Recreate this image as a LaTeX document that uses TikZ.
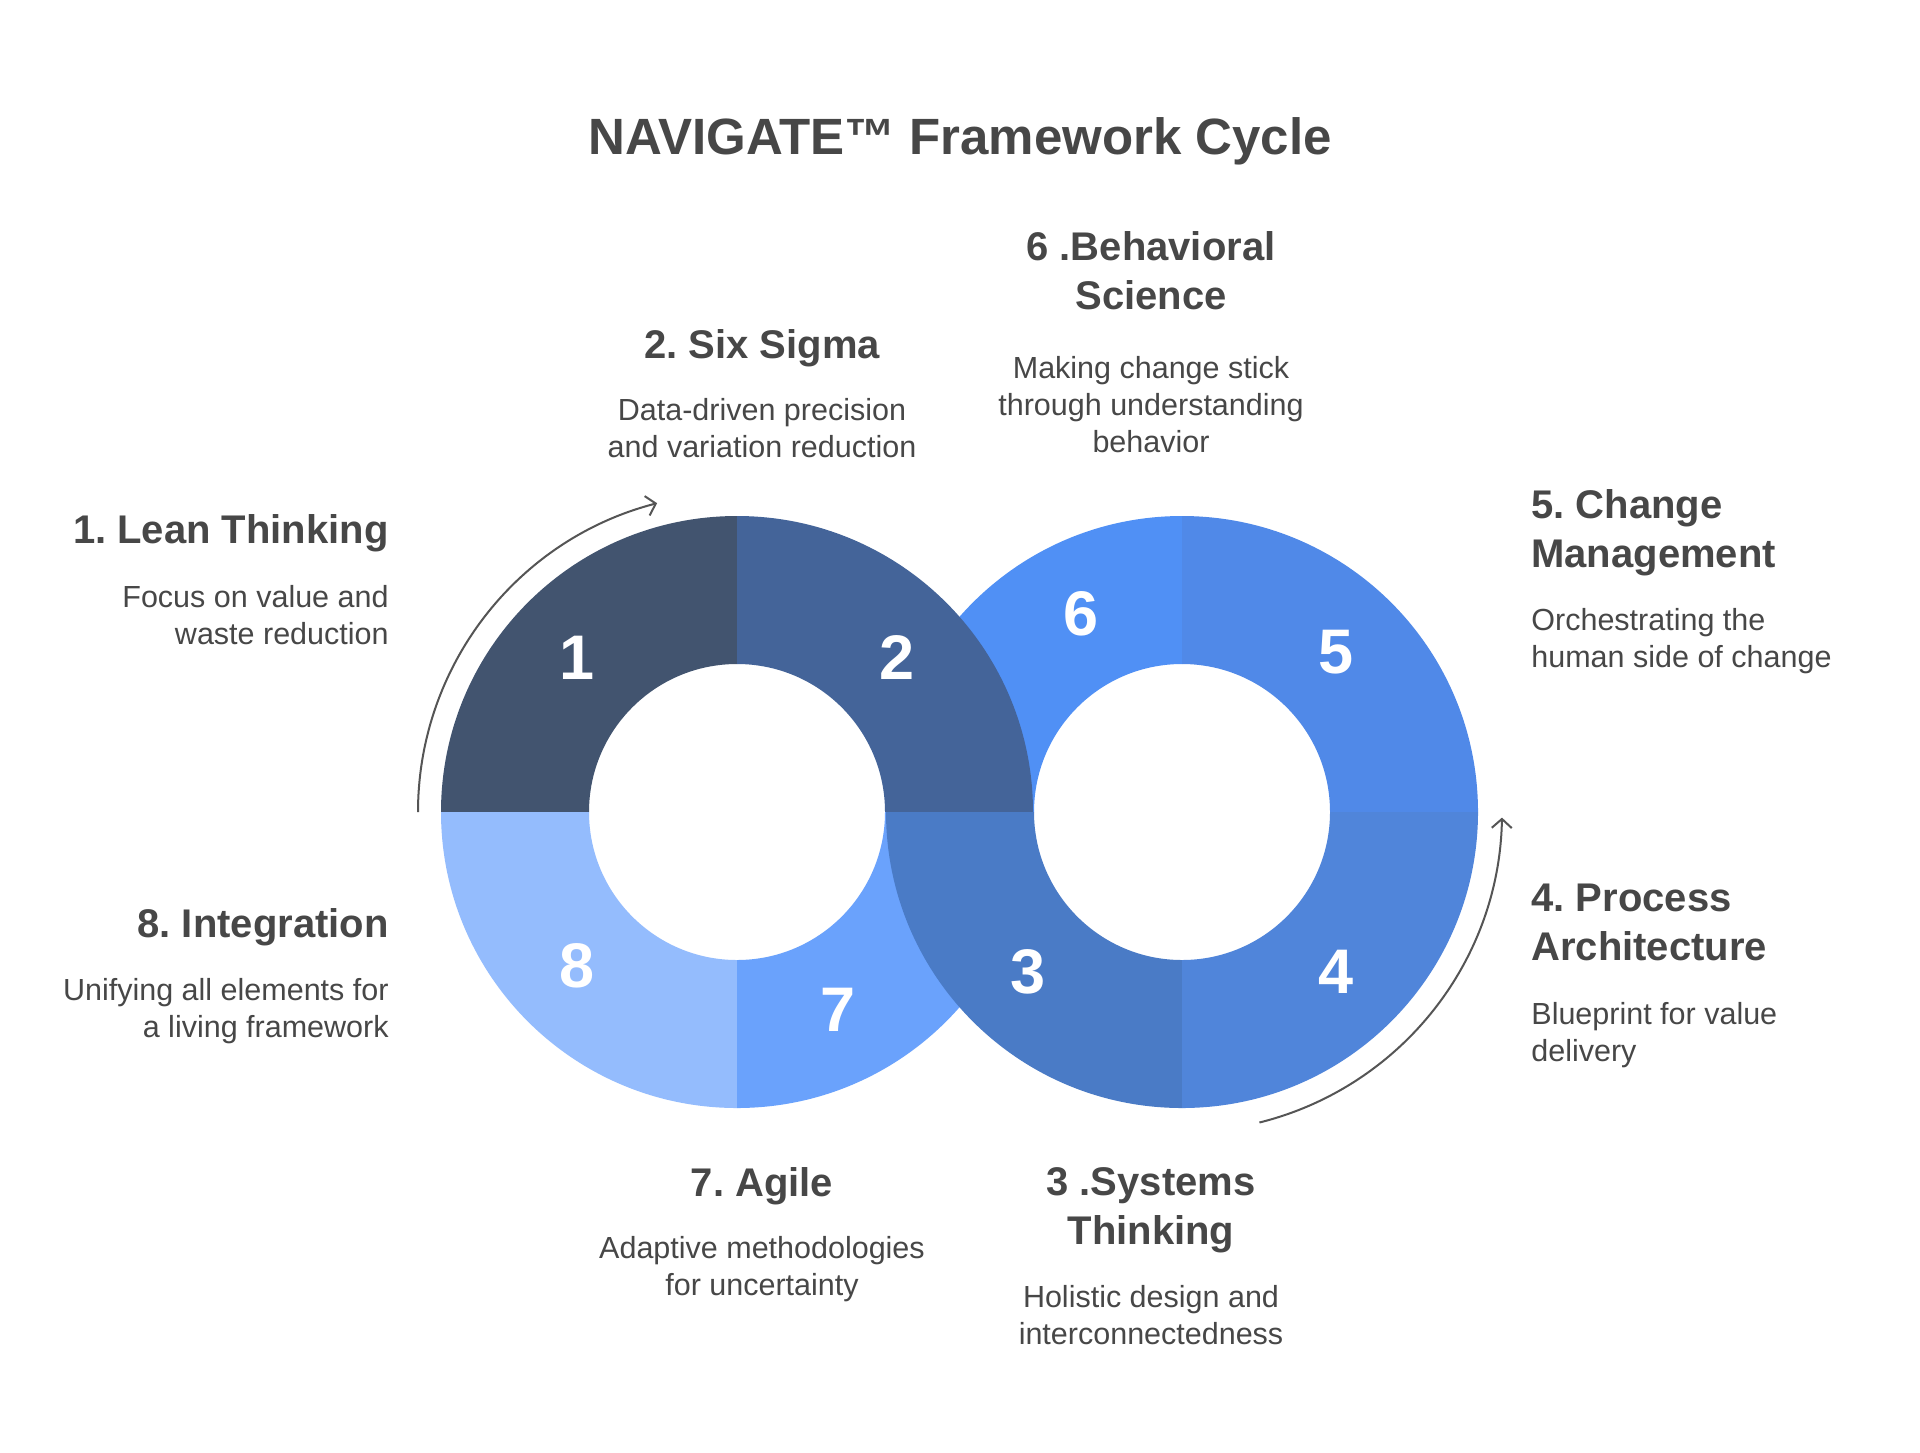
\documentclass[tikz,border=0pt]{standalone}
\usepackage{fontspec}
\setmainfont{Liberation Sans}
\usetikzlibrary{arrows.meta,calc,positioning}
\frenchspacing
\definecolor{navone}{HTML}{42546F}
\definecolor{navtwo}{HTML}{446499}
\definecolor{navthree}{HTML}{4A7BC6}
\definecolor{navfour}{HTML}{5085DA}
\definecolor{navfive}{HTML}{5089E8}
\definecolor{navsix}{HTML}{5090F5}
\definecolor{navseven}{HTML}{6AA2FC}
\definecolor{naveight}{HTML}{94BCFD}
\definecolor{navtext}{HTML}{474747}
\definecolor{navarrow}{HTML}{555555}
% one quarter of a ring: centre, start angle, end angle, colour
\newcommand{\ringseg}[4]{%
  \fill[#4] ($(#1)+(#2:296)$) arc[start angle=#2, end angle=#3, radius=296]
    -- ($(#1)+(#3:148)$) arc[start angle=#3, end angle=#2, radius=148] -- cycle;}

\begin{document}
\begin{tikzpicture}[
  x=.5pt,y=.5pt,
  cyc/.style={draw=navarrow, line width=1pt, -{Straight Barb[length=4.5pt,width=10pt]}},
  num/.style={text=white, inner sep=0pt, font=\bfseries\fontsize{31.5}{32}\selectfont},
  head/.style={text=navtext, inner sep=0pt, font=\bfseries\fontsize{20}{24.5}\selectfont},
  desc/.style={text=navtext, inner sep=0pt, font=\fontsize{15.25}{18.5}\selectfont},
]
\path[fill=white, use as bounding box] (0,0) rectangle (1920,-1452);

\node[anchor=north, text=navtext, inner sep=0pt, font=\bfseries\fontsize{25.5}{30}\selectfont] (title) at (960,-117) {NAVIGATE™ Framework Cycle};

\coordinate (L) at (737,-812);
\coordinate (R) at (1182,-812);

% rings: right top, then left, then right bottom
\ringseg{R}{90}{180}{navsix}
\ringseg{R}{0}{90}{navfive}
\ringseg{L}{90}{180}{navone}
\ringseg{L}{0}{90}{navtwo}
\ringseg{L}{180}{270}{naveight}
\ringseg{L}{270}{360}{navseven}
\ringseg{R}{180}{270}{navthree}
\ringseg{R}{270}{360}{navfour}

\foreach \n/\a in {1/136,2/44,8/224,7/297}{\node[num] (n\n) at ($(L)+(\a:222)$) {\n};}
\foreach \n/\a in {6/117,5/46,3/226,4/314}{\node[num] (n\n) at ($(R)+(\a:222)$) {\n};}

\draw[cyc] ($(L)+(180:319)$) arc[start angle=180, end angle=104.5, radius=319];
\draw[cyc] ($(R)+(-76:320)$) arc[start angle=-76, end angle=-1, radius=320];

% labels
\node[head, anchor=north east, align=right] (lean) at (389,-514) {1. Lean Thinking};
\node[desc, anchor=north east, align=right] (leand) at (389,-585) {Focus on value and\\waste reduction};
\node[head, anchor=north] (six) at (762,-329) {2. Six Sigma};
\node[desc, anchor=north, align=center] (sixd) at (762,-398) {Data-driven precision\\and variation reduction};
\node[head, anchor=north, align=center] (beh) at (1151,-231) {6 .Behavioral\\Science};
\node[desc, anchor=north, align=center] (behd) at (1151,-356) {Making change stick\\through understanding\\behavior};
\node[head, anchor=north west, align=left] (chg) at (1531,-489) {5. Change\\Management};
\node[desc, anchor=north west, align=left] (chgd) at (1531,-608) {Orchestrating the\\human side of change};
\node[head, anchor=north west, align=left] (proc) at (1531,-884) {4. Process\\Architecture};
\node[desc, anchor=north west, align=left] (procd) at (1531,-1002) {Blueprint for value\\delivery};
\node[head, anchor=north east, align=right] (integ) at (389,-908) {8. Integration};
\node[desc, anchor=north east, align=right] (integd) at (389,-978) {Unifying all elements for\\a living framework};
\node[head, anchor=north] (agile) at (762,-1167) {7. Agile};
\node[desc, anchor=north, align=center] (agiled) at (762,-1236) {Adaptive methodologies\\for uncertainty};
\node[head, anchor=north, align=center] (sys) at (1151,-1167) {3 .Systems\\Thinking};
\node[desc, anchor=north, align=center] (sysd) at (1151,-1285) {Holistic design and\\interconnectedness};
\end{tikzpicture}
\end{document}
